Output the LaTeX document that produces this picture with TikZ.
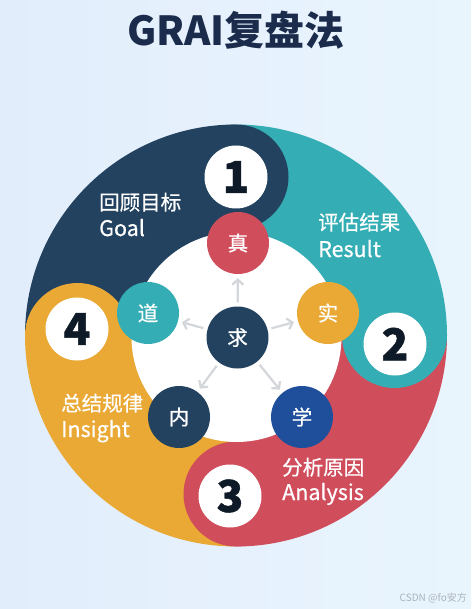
\documentclass[tikz,border=0pt]{standalone}
\usepackage{fontspec}
\setmainfont{Noto Sans CJK SC}
\newfontfamily\medfont[FakeBold=0.6]{Noto Sans CJK SC}
\usetikzlibrary{arrows.meta}
\definecolor{cNavy}{HTML}{22425F}
\definecolor{cTeal}{HTML}{35ADB4}
\definecolor{cRed}{HTML}{D04E5C}
\definecolor{cOrg}{HTML}{EAA934}
\definecolor{cBlue}{HTML}{1F4E9B}
\definecolor{cTitle}{HTML}{1B2B4B}
\definecolor{cNum}{HTML}{0F1A28}
\definecolor{cArr}{HTML}{D3D6DA}
\definecolor{bgL}{HTML}{E2EDFC}
\definecolor{bgR}{HTML}{E9F5FD}
\definecolor{cMark}{HTML}{A9B3BE}
\begin{document}
\begin{tikzpicture}[x=1pt,y=-1pt,
  ball/.style={circle, minimum size=62pt, inner sep=0pt, text=white, font=\medfont\fontsize{20.5}{20.5}\selectfont},
  numball/.style={circle, fill=white, minimum size=63pt, inner sep=0pt, text=cNum, font=\bfseries\fontsize{44}{44}\selectfont\addfontfeatures{FakeBold=1}},
  lab/.style={anchor=base west, inner sep=0pt, text=white},
  cjklab/.style={lab, font=\medfont\fontsize{20.5}{20.5}\selectfont},
  latlab/.style={lab, font=\medfont\fontsize{21.5}{21.5}\selectfont},
  arr/.style={draw=cArr, line width=2.2pt, -{Straight Barb[length=5pt,width=11pt]}, shorten <=4pt, shorten >=4pt}]
\useasboundingbox (0,0) rectangle (471,609);
\shade[left color=bgL, right color=bgR] (0,0) rectangle (471,609);
\node[font=\bfseries\fontsize{40}{40}\selectfont, text=cTitle, inner sep=0pt] (title) at (236,30) {GRAI复盘法};
\begin{scope}
  \clip (236,335.5) circle (211pt);
  \fill[cNavy] (0,0) rectangle (236,335.5);
  \fill[cTeal] (236,0) rectangle (471,335.5);
  \fill[cRed] (236,335.5) rectangle (471,609);
  \fill[cOrg] (0,335.5) rectangle (236,609);
  \fill[cNavy] (236,177) circle (52.5pt);
  \fill[cTeal] (394.5,335.5) circle (52.5pt);
  \fill[cRed] (236,494) circle (52.5pt);
  \fill[cOrg] (77.5,335.5) circle (52.5pt);
\end{scope}
\fill[white] (236.5,337) circle (105pt);
% numbers
\node[numball] (n1) at (236,177) {1};
\node[numball] (n2) at (395,344) {2};
\node[numball] (n3) at (230,496) {3};
\node[numball] (n4) at (77,329) {4};
% labels
\node[cjklab] (g1) at (99,210) {回顾目标};
\node[latlab] (g2) at (99,236) {Goal};
\node[cjklab] (r1) at (318,230) {评估结果};
\node[latlab] (r2) at (318,257) {Result};
\node[cjklab] (i1) at (61,411) {总结规律};
\node[latlab] (i2) at (61,437) {Insight};
\node[cjklab] (a1) at (282,475) {分析原因};
\node[latlab] (a2) at (282,500) {Analysis};
% inner balls
\node[ball, fill=cNavy] (qiu) at (237.5,337.5) {求};
\node[ball, fill=cRed] (zhen) at (238,243) {真};
\node[ball, fill=cTeal] (dao) at (148,313) {道};
\node[ball, fill=cOrg] (shi) at (328,313) {实};
\node[ball, fill=cNavy] (nei) at (179,417) {内};
\node[ball, fill=cBlue] (xue) at (302,417) {学};
\draw[arr] (qiu) -- (zhen);
\draw[arr] (qiu) -- (dao);
\draw[arr] (qiu) -- (shi);
\draw[arr] (qiu) -- (nei);
\draw[arr] (qiu) -- (xue);
\node[anchor=base east, inner sep=0pt, text=cMark, font=\fontsize{10}{10}\selectfont] (mark) at (467,601) {CSDN @fo安方};
\end{tikzpicture}
\end{document}
